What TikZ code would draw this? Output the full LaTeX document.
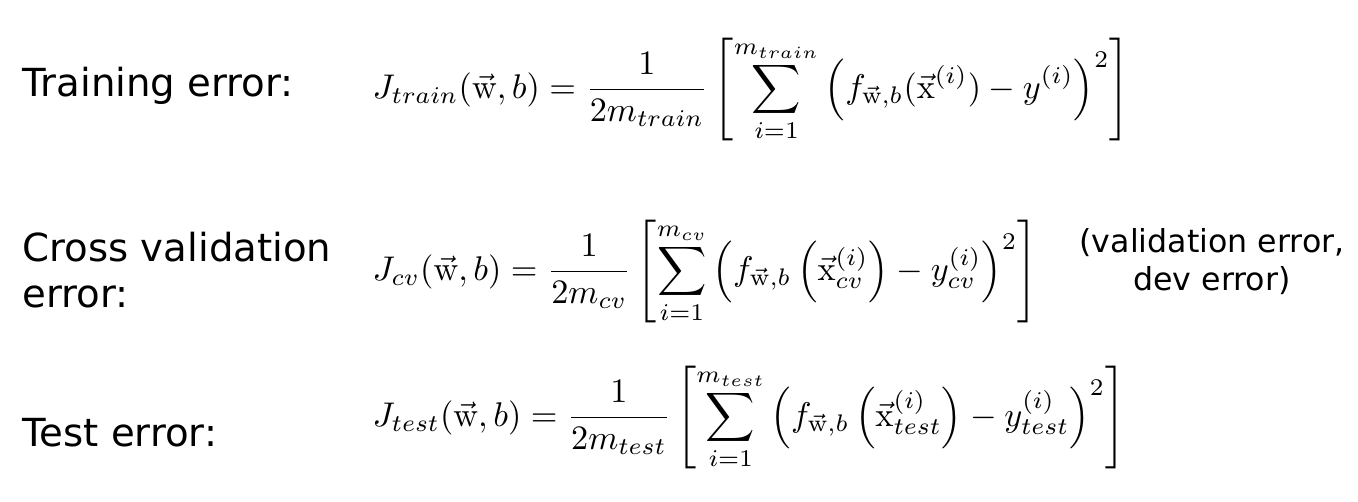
\documentclass[tikz,border=0pt]{standalone}
\usepackage{fontspec}
\setsansfont{DejaVu Sans}
\newcommand{\vw}{\vec{\mathrm{w}}}
\newcommand{\vx}{\vec{\mathrm{x}}}
\begin{document}
\begin{tikzpicture}[x=0.02cm,y=-0.02cm,
  lab/.style={font=\sffamily, scale=2.2, transform shape, anchor=west, inner sep=0pt, align=left},
  eq/.style={scale=1.95, transform shape, anchor=west, inner sep=0pt},
  note/.style={font=\sffamily, scale=1.8, transform shape, inner sep=0pt, align=center}]
\useasboundingbox (0,0) rectangle (1358,501);
\node[lab] (l1) at (22,86) {Training error:};
\node[lab] (l2) at (22,270) {Cross validation\\error:};
\node[lab] (l3) at (22,433) {Test error:};
\node[eq] (e1) at (372,90) {$\displaystyle J_{train}(\vw,b)=\frac{1}{2m_{train}}\left[\sum_{i=1}^{m_{train}}\left(f_{\vw,b}(\vx^{(i)})-y^{(i)}\right)^2\right]$};
\node[eq] (e2) at (372,272) {$\displaystyle J_{cv}(\vw,b)=\frac{1}{2m_{cv}}\left[\sum_{i=1}^{m_{cv}}\left(f_{\vw,b}\left(\vx_{cv}^{(i)}\right)-y_{cv}^{(i)}\right)^2\right]$};
\node[eq] (e3) at (372,418) {$\displaystyle J_{test}(\vw,b)=\frac{1}{2m_{test}}\left[\sum_{i=1}^{m_{test}}\left(f_{\vw,b}\left(\vx_{test}^{(i)}\right)-y_{test}^{(i)}\right)^2\right]$};
\node[note] (n) at (1212,262) {(validation error,\\dev error)};
\end{tikzpicture}
\end{document}
